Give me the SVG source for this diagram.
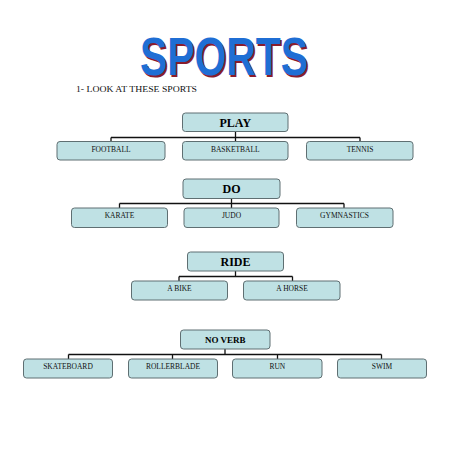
<svg xmlns="http://www.w3.org/2000/svg" width="452" height="452" viewBox="0 0 452 452">
<style>
.box{fill:#bfe1e4;stroke:#5f6f72;stroke-width:1}
.head{font-family:"Liberation Serif",serif;font-weight:bold;font-size:12px;fill:#000;text-anchor:middle}
.lbl{font-family:"Liberation Serif",serif;font-size:7.5px;fill:#111;text-anchor:middle}
.conn{stroke:#111;stroke-width:1.3;fill:none}
</style>
<rect width="452" height="452" fill="#fff"/>
<g id="title">
<text x="141.5" y="76.5" font-family="Liberation Sans, sans-serif" font-weight="bold" font-size="53" textLength="168" lengthAdjust="spacingAndGlyphs" fill="#8a1c2c">SPORTS</text>
<text x="140" y="75" font-family="Liberation Sans, sans-serif" font-weight="bold" font-size="53" textLength="168" lengthAdjust="spacingAndGlyphs" fill="#1f6ed4">SPORTS</text>
</g>
<text id="instruction" x="76" y="92" font-family="Liberation Serif, serif" font-size="7.5" textLength="121" lengthAdjust="spacingAndGlyphs" fill="#111">1-  LOOK AT THESE SPORTS</text>
<g id="connectors">
<path class="conn" d="M235.5 132V137.5M111 137.5H360M111 137.5V142M235.5 137.5V142M360 137.5V142"/>
<path class="conn" d="M231.5 198.5V203.5M119.5 203.5H344M119.5 203.5V208M231.5 203.5V208M344 203.5V208"/>
<path class="conn" d="M235.5 271V276.5M179 276.5H292.5M179 276.5V281M292.5 276.5V281"/>
<path class="conn" d="M225 349V354.5M68.5 354.5H381.5M68.5 354.5V359M172.5 354.5V359M277.5 354.5V359M381.5 354.5V359"/>
</g>
<g id="play"><rect class="box" x="182.5" y="113" width="105.5" height="18.5" rx="3"/><text class="head" x="235.3" y="126.5">PLAY</text></g>
<g id="football"><rect class="box" x="57" y="141.5" width="108" height="18.5" rx="3"/><text class="lbl" x="111" y="151.5">FOOTBALL</text></g>
<g id="basketball"><rect class="box" x="182.5" y="141.5" width="105.5" height="18.5" rx="3"/><text class="lbl" x="235.3" y="151.5">BASKETBALL</text></g>
<g id="tennis"><rect class="box" x="306.5" y="141.5" width="106.5" height="18.5" rx="3"/><text class="lbl" x="360" y="151.5">TENNIS</text></g>
<g id="do"><rect class="box" x="183" y="179" width="97" height="19.5" rx="3"/><text class="head" x="231.5" y="193">DO</text></g>
<g id="karate"><rect class="box" x="71.5" y="208" width="96" height="19.5" rx="3"/><text class="lbl" x="119.5" y="218">KARATE</text></g>
<g id="judo"><rect class="box" x="184" y="208" width="95" height="19.5" rx="3"/><text class="lbl" x="231.5" y="218">JUDO</text></g>
<g id="gymnastics"><rect class="box" x="296.5" y="208" width="96.5" height="19.5" rx="3"/><text class="lbl" x="344.5" y="218">GYMNASTICS</text></g>
<g id="ride"><rect class="box" x="187.5" y="252" width="96" height="19" rx="3"/><text class="head" x="235.5" y="266">RIDE</text></g>
<g id="abike"><rect class="box" x="131.5" y="281" width="96" height="19" rx="3"/><text class="lbl" x="179.5" y="291">A BIKE</text></g>
<g id="ahorse"><rect class="box" x="243.5" y="281" width="96.5" height="19" rx="3"/><text class="lbl" x="292" y="291">A HORSE</text></g>
<g id="noverb"><rect class="box" x="180.5" y="330" width="89.5" height="19" rx="3"/><text class="head" x="225.3" y="342.5" style="font-size:9px">NO VERB</text></g>
<g id="skateboard"><rect class="box" x="23.5" y="359" width="89" height="19" rx="3"/><text class="lbl" x="68" y="369">SKATEBOARD</text></g>
<g id="rollerblade"><rect class="box" x="128.5" y="359" width="89" height="19" rx="3"/><text class="lbl" x="173" y="369">ROLLERBLADE</text></g>
<g id="run"><rect class="box" x="232.5" y="359" width="89.5" height="19" rx="3"/><text class="lbl" x="277.3" y="369">RUN</text></g>
<g id="swim"><rect class="box" x="337.5" y="359" width="89" height="19" rx="3"/><text class="lbl" x="382" y="369">SWIM</text></g>
</svg>
